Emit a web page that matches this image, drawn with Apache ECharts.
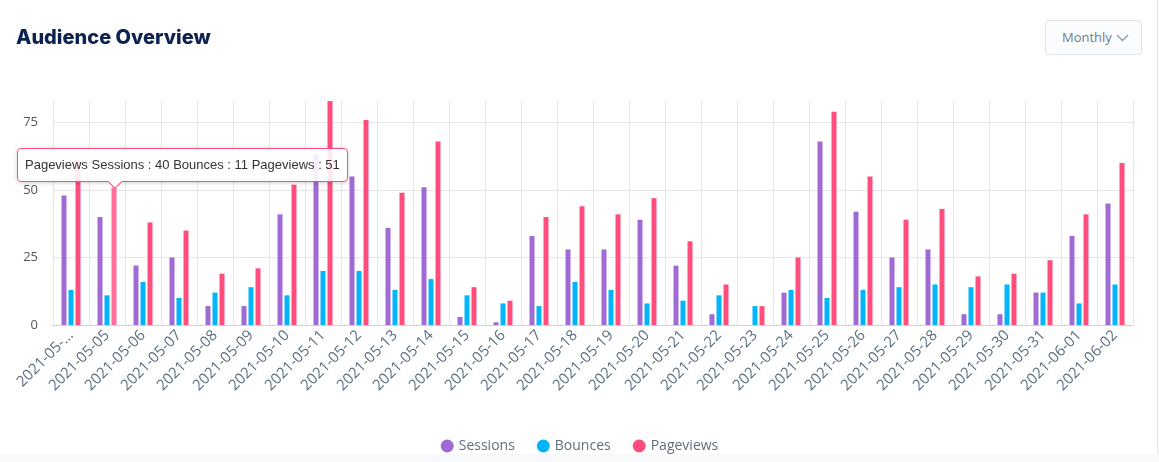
<!DOCTYPE html>
<html>
<head>
<meta charset="utf-8">
<title>Audience Overview</title>
<script src="https://cdn.jsdelivr.net/npm/echarts/dist/echarts.min.js"></script>
<style>
    html, body { margin: 0; padding: 0; background: #f8f9fb; }
    .card {
        position: relative;
        width: 1157px;
        height: 454px;
        background: #fff;
        border-right: 1px solid #dfe5ef;
    }
    #chart { position: absolute; left: 0; top: 0; width: 1159px; height: 462px; }
    .range-btn {
        position: absolute;
        left: 1045px;
        top: 20px;
        width: 97px;
        height: 35px;
        border: 1px solid #dde3ea;
        border-radius: 4px;
        background: #fbfcfe;
        box-sizing: border-box;
        font: 13px "Open Sans", sans-serif;
        color: #6b7c8c;
        line-height: 33px;
        padding-left: 16px;
    }
    .range-btn svg { vertical-align: middle; margin-left: 4px; margin-top: -2px; }
    .tip-arrow {
        position: absolute;
        bottom: -6px;
        width: 9px;
        height: 9px;
        background: #fff;
        border-right: 1px solid #ff4d7e;
        border-bottom: 1px solid #ff4d7e;
        transform: rotate(45deg);
    }
</style>
</head>
<body>
<div class="card">
    <div id="chart"></div>
    <div class="range-btn">Monthly<svg width="13" height="8" viewBox="0 0 13 8"><polyline points="1,1 6.5,6.5 12,1" fill="none" stroke="#8a99a8" stroke-width="1.3"/></svg></div>
</div>
<script>
    // dates (x axis)
    var dates = ['2021-05-04', '2021-05-05', '2021-05-06', '2021-05-07', '2021-05-08', '2021-05-09',
        '2021-05-10', '2021-05-11', '2021-05-12', '2021-05-13', '2021-05-14', '2021-05-15',
        '2021-05-16', '2021-05-17', '2021-05-18', '2021-05-19', '2021-05-20', '2021-05-21',
        '2021-05-22', '2021-05-23', '2021-05-24', '2021-05-25', '2021-05-26', '2021-05-27',
        '2021-05-28', '2021-05-29', '2021-05-30', '2021-05-31', '2021-06-01', '2021-06-02'];

    var sessions  = [48, 40, 22, 25, 7, 7, 41, 63, 55, 36, 51, 3, 1, 33, 28, 28, 39, 22, 4, 0, 12, 68, 42, 25, 28, 4, 4, 12, 33, 45];
    var bounces   = [13, 11, 16, 10, 12, 14, 11, 20, 20, 13, 17, 11, 8, 7, 16, 13, 8, 9, 11, 7, 13, 10, 13, 14, 15, 14, 15, 12, 8, 15];
    var pageviews = [61, 51, 38, 35, 19, 21, 52, 83, 76, 49, 68, 14, 9, 40, 44, 41, 47, 31, 15, 7, 25, 79, 55, 39, 43, 18, 19, 24, 41, 60];

    var yTicks = [0, 25, 50, 75];

    var colors = ['#a06ad4', '#00b5fa', '#ff4d7e'];

    var chart = echarts.init(document.getElementById('chart'));

    function makeSeries(name, data, color, hover) {
        return {
            name: name,
            type: 'bar',
            data: data,
            barWidth: 5,
            barGap: '40%',
            itemStyle: { color: color },
            emphasis: { itemStyle: { color: hover } }
        };
    }

    chart.setOption({
        animation: false,
        textStyle: { fontFamily: '"Open Sans", sans-serif' },
        title: {
            text: 'Audience Overview',
            left: 11,
            top: 23,
            textStyle: {
                fontFamily: 'Inter, "Open Sans", sans-serif',
                fontWeight: 800,
                fontSize: 20,
                color: '#0d2250'
            }
        },
        tooltip: {
            trigger: 'item',
            triggerOn: 'none',
            alwaysShowContent: true,
            transitionDuration: 0,
            backgroundColor: 'rgba(255,255,255,0.88)',
            borderColor: '#ff4d7e',
            borderWidth: 1,
            padding: [6, 7],
            textStyle: { color: '#333', fontSize: 13, fontFamily: '"Liberation Sans", Arial, sans-serif' },
            extraCssText: 'border-radius:4px;box-shadow:0 1px 4px rgba(0,0,0,0.18);white-space:nowrap;',
            formatter: function (p) {
                var i = p.dataIndex;
                return p.seriesName + ' Sessions : ' + sessions[i] + ' Bounces : ' + bounces[i] +
                    ' Pageviews : ' + pageviews[i] + '<span class="tip-arrow"></span>';
            },
            position: function (point, params, dom, rect, size) {
                var w = size.contentSize[0], h = size.contentSize[1];
                var cx = rect.x + rect.width / 2;
                var x = Math.max(17, cx - w / 2);
                var y = rect.y - h - 5;
                var arr = dom.querySelector('.tip-arrow');
                if (arr) arr.style.left = (cx - x - 5) + 'px';
                return [x, y];
            }
        },
        legend: {
            top: 434,
            left: 'center',
            icon: 'circle',
            itemWidth: 13,
            itemHeight: 13,
            itemGap: 22,
            textStyle: { fontSize: 14, color: '#5d6e80' },
            data: ['Sessions', 'Bounces', 'Pageviews']
        },
        grid: { left: 53, right: 26, top: 101, bottom: 137 },
        xAxis: {
            type: 'category',
            data: dates,
            axisLine: { lineStyle: { color: '#c9d3e8' } },
            axisTick: { length: 5, lineStyle: { color: '#c9d3e8' } },
            splitLine: { show: true, lineStyle: { color: '#e6e6e6' } },
            axisLabel: {
                rotate: 45,
                interval: 0,
                fontSize: 15,
                color: '#5b6f82',
                margin: 8,
                formatter: function (v, i) {
                    // first label is cut in the original
                    return i === 0 ? v.slice(0, 8) + '…' : v;
                }
            }
        },
        yAxis: {
            type: 'value',
            min: yTicks[0],
            max: 'dataMax',
            interval: yTicks[1] - yTicks[0],
            axisLine: { show: false },
            axisTick: { show: false },
            splitLine: { showMaxLine: false, lineStyle: { color: '#e6e6e6' } },
            axisLabel: { showMaxLabel: false, fontSize: 13, color: '#555', margin: 15 }
        },
        series: [
            makeSeries('Sessions', sessions, colors[0], '#b38ade'),
            makeSeries('Bounces', bounces, colors[1], '#40c8fb'),
            makeSeries('Pageviews', pageviews, colors[2], '#ff6f97')
        ]
    });

    chart.dispatchAction({ type: 'highlight', seriesIndex: 2, dataIndex: 1 });
    chart.dispatchAction({ type: 'showTip', seriesIndex: 2, dataIndex: 1 });
</script>
</body>
</html>
